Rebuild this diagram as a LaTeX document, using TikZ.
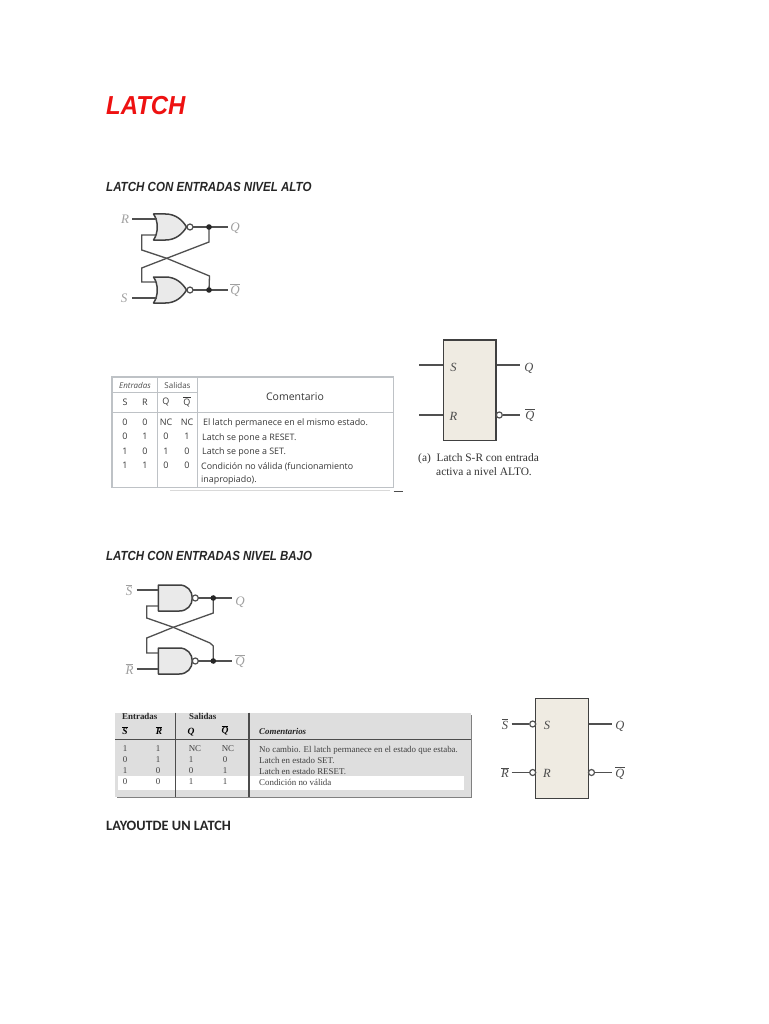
\documentclass[tikz,border=0pt]{standalone}
\usepackage{graphicx}
\usepackage{fontspec}
\setmainfont{Liberation Serif}
\newfontfamily\headfont{Liberation Sans}
\newfontfamily\tabfont{Open Sans}
\newfontfamily\layfont{Carlito}
\newcommand{\fsz}[1]{\fontsize{#1}{#1}\selectfont}
\newcommand{\barred}[1]{\ensuremath{\overline{\hbox{#1}}}}
\definecolor{wirecol}{HTML}{505050}
\definecolor{gatefill}{HTML}{EAEAEA}
\definecolor{boxfill}{HTML}{EFEBE2}
\definecolor{palelabel}{HTML}{A0A0A0}
\definecolor{tabgray}{HTML}{DEDEDE}
\definecolor{tabframe}{HTML}{BEC2C6}
\definecolor{headred}{HTML}{EE1111}
\tikzset{
  x=1pt,y=-1pt,
  wire/.style={draw=wirecol,line width=1.3pt},
  gateline/.style={draw=wirecol!80!black,line width=1.5pt,fill=gatefill,line join=round},
  bubble/.style={draw=wirecol,line width=1.2pt,fill=white},
  junction/.style={fill=black!85,draw=none},
  latchbox/.style={draw=wirecol!80!black,line width=1.4pt,fill=boxfill},
  heading/.style={anchor=base west,inner sep=0pt,font=\headfont\bfseries\itshape\fsz{13.2},text=black!85},
  plabel/.style={inner sep=0pt,font=\itshape\fsz{13},text=palelabel},
  dlabel/.style={inner sep=0pt,font=\itshape\fsz{12.5},text=black!70},
  tcell/.style={inner sep=0pt,font=\tabfont\fsz{9},text=black!78},
  thead/.style={inner sep=0pt,font=\tabfont\fsz{8},text=black!70},
  ttext/.style={anchor=base west,inner sep=0pt,font=\tabfont\fsz{8.9},text=black!78},
  rcell/.style={inner sep=0pt,font=\fsz{8.9},text=black!75},
  rtext/.style={anchor=base west,inner sep=0pt,font=\fsz{8.9},text=black!75},
  rhead/.style={anchor=base west,inner sep=0pt,font=\bfseries\fsz{8.9},text=black!85},
  pics/norshape/.style={code={
    \path[gateline] (0,-13) -- (12,-13) .. controls (22,-13) and (29,-7) .. (33,0)
      .. controls (29,7) and (22,13) .. (12,13) -- (0,13)
      .. controls (5,6) and (5,-6) .. (0,-13) -- cycle;
    \path[bubble] (36.5,0) circle (3);
    \coordinate (-a) at (3,-8);
    \coordinate (-b) at (3,8);
    \coordinate (-o) at (39.5,0);
  }},
  pics/nandshape/.style={code={
    \path[gateline] (0,-13) -- (21,-13) .. controls (29,-13) and (34,-7) .. (34,0)
      .. controls (34,7) and (29,13) .. (21,13) -- (0,13) -- cycle;
    \path[bubble] (37,0) circle (3);
    \coordinate (-a) at (0,-8);
    \coordinate (-b) at (0,8);
    \coordinate (-o) at (40,0);
  }},
}
\begin{document}
\begin{tikzpicture}
\useasboundingbox (0,0) rectangle (768,1024);
\fill[white] (0,0) rectangle (768,1024);

% headings
\node[anchor=base west,inner sep=0pt,font=\headfont\bfseries\itshape\fsz{26},text=headred] (title) at (106,115) {\scalebox{.92}[1]{LATCH}};
\node[heading] (h1) at (106,192) {\scalebox{.875}[1]{LATCH CON ENTRADAS NIVEL ALTO}};
\node[heading] (h2) at (106,560) {\scalebox{.87}[1]{LATCH CON ENTRADAS NIVEL BAJO}};
\node[anchor=base west,inner sep=0pt,font=\layfont\bfseries\fsz{14.3},text=black!85] (h3) at (106,830) {LAYOUTDE UN LATCH};

% NOR latch
\pic (n1) at (153.5,227) {norshape};
\pic (n2) at (153.5,290) {norshape};
\coordinate (rin) at (132,219);
\coordinate (sin) at (132,298);
\coordinate (jq) at (209,227);
\coordinate (jn) at (209,290);
\coordinate (qe) at (228,227);
\coordinate (ne) at (228,290);
\coordinate (cross1) at (166.7,258.3);
\draw[wire] (rin) -- (rin -| n1-a);
\draw[wire] (sin) -- (sin -| n2-b);
\draw[wire] (n1-o) -- (qe);
\draw[wire] (n2-o) -- (ne);
\draw[wire] (n1-b) -- (141.7,235) -- (141.7,250) -- (cross1) -- (209.5,276) -- (jn);
\draw[wire] (jq) -- (209,242) -- (cross1) -- (141.7,268) -- (141.7,282) -- (n2-a);
\fill[junction] (jq) circle (2.8);
\fill[junction] (jn) circle (2.8);
\node[plabel] (lr) at (125,219) {R};
\node[plabel] (ls) at (124,298) {S};
\node[plabel] (lq) at (235,228) {Q};
\node[plabel] (lnq) at (235,290) {\barred{Q}};

% Table 1
\path[draw=tabframe,line width=1.3pt] (112,377) rectangle (393.5,487.5);
\draw[tabframe,line width=1pt] (157.3,377) -- (157.3,487.5);
\draw[tabframe,line width=1pt] (197.3,377) -- (197.3,487.5);
\draw[tabframe,line width=1pt] (112,392) -- (197.3,392);
\draw[tabframe,line width=1pt] (112,412) -- (393.5,412);
\draw[black!70,line width=.8pt] (393.5,491) -- (403,491);
\draw[black!15,line width=.6pt] (170,490.5) -- (390,490.5);
\node[thead] (e1) at (135,385) {\itshape Entradas};
\node[thead] (e2) at (177.5,385) {Salidas};
\node[tcell] (e3) at (125,402) {S};
\node[tcell] (e4) at (145,402) {R};
\node[tcell] (e5) at (166,402) {Q};
\node[tcell] (e6) at (187,402) {\barred{Q}};
\node[anchor=center,inner sep=0pt,font=\tabfont\fsz{10.5},text=black!78] (e7) at (295,397) {Comentario};
\node[tcell] (a1) at (125,422) {0};
\node[tcell] (a2) at (145,422) {0};
\node[tcell] (a3) at (166,422) {NC};
\node[tcell] (a4) at (187,422) {NC};
\node[tcell] (b1) at (125,436) {0};
\node[tcell] (b2) at (145,436) {1};
\node[tcell] (b3) at (166,436) {0};
\node[tcell] (b4) at (187,436) {1};
\node[tcell] (c1) at (125,451) {1};
\node[tcell] (c2) at (145,451) {0};
\node[tcell] (c3) at (166,451) {1};
\node[tcell] (c4) at (187,451) {0};
\node[tcell] (d1) at (125,465) {1};
\node[tcell] (d2) at (145,465) {1};
\node[tcell] (d3) at (166,465) {0};
\node[tcell] (d4) at (187,465) {0};
\node[ttext] (a5) at (203,425) {El latch permanece en el mismo estado.};
\node[ttext] (b5) at (202,440) {Latch se pone a RESET.};
\node[ttext] (c5) at (202,454) {Latch se pone a SET.};
\node[ttext] (d5) at (201,469) {Condición no válida (funcionamiento};
\node[ttext] (d6) at (201,482) {inapropiado).};

% block 1
\node[latchbox,minimum width=52.6,minimum height=100.7,inner sep=0pt] (bk1) at (469.7,390.4) {};
\coordinate (s1) at (419,365);
\coordinate (r1) at (419,415);
\coordinate (q1) at (520,365);
\coordinate (n1e) at (520,415);
\draw[wire] (s1) -- (s1 -| bk1.west);
\draw[wire] (r1) -- (r1 -| bk1.west);
\draw[wire] (q1 -| bk1.east) -- (q1);
\node[circle,bubble,minimum size=6,inner sep=0pt] (bb1) at (499.3,415) {};
\draw[wire] (bb1) -- (n1e);
\node[dlabel] (ls1) at (453.5,367) {S};
\node[dlabel] (lr1) at (453.5,416) {R};
\node[dlabel] (lq1) at (529,368) {Q};
\node[dlabel] (ln1) at (530,415) {\barred{Q}};
\node[anchor=base west,inner sep=0pt,font=\fsz{11.4},text=black!80] (cap1) at (418,461) {(a)\ \ Latch S-R con entrada};
\node[anchor=base west,inner sep=0pt,font=\fsz{11.4},text=black!80] (cap2) at (436,475) {activa a nivel ALTO.};

% NAND latch
\pic (g1) at (158.3,598) {nandshape};
\pic (g2) at (158.3,661) {nandshape};
\coordinate (si) at (136.7,590);
\coordinate (ri) at (136.7,669);
\coordinate (gq) at (213.3,598);
\coordinate (gn) at (213.3,661);
\coordinate (gqe) at (232,598);
\coordinate (gne) at (232,661);
\coordinate (cross2) at (173.3,627.3);
\draw[wire] (si) -- (g1-a);
\draw[wire] (ri) -- (g2-b);
\draw[wire] (g1-o) -- (gqe);
\draw[wire] (g2-o) -- (gne);
\draw[wire] (g1-b) -- (146.7,606) -- (146.7,618) -- (cross2) -- (210,643) -- (213.3,646) -- (gn);
\draw[wire] (gq) -- (213.3,613) -- (cross2) -- (146.7,638) -- (146.7,653) -- (g2-a);
\fill[junction] (gq) circle (2.8);
\fill[junction] (gn) circle (2.8);
\node[plabel] (gls) at (129,590) {\barred{S}};
\node[plabel] (glr) at (129.5,669) {\barred{R}};
\node[plabel] (glq) at (240,602) {Q};
\node[plabel] (gln) at (240,661) {\barred{Q}};

% Table 2
\fill[black!50] (116.5,714.5) rectangle (472,798);
\fill[tabgray] (115,712.7) rectangle (470.5,796.5);
\fill[white] (118,776) rectangle (464,790);
\draw[black!70,line width=1.2pt] (115,739.3) -- (470.5,739.3);
\draw[black!70,line width=1.2pt] (175.7,712.7) -- (175.7,796.5);
\draw[black!70,line width=1.2pt] (249,712.7) -- (249,796.5);
\node[rhead] (t1) at (122,719.5) {Entradas};
\node[rhead] (t2) at (189,719.5) {Salidas};
\node[inner sep=0pt,font=\bfseries\itshape\fsz{9.5}] (t3) at (125,730.5) {\barred{S}};
\node[inner sep=0pt,font=\bfseries\itshape\fsz{9.5}] (t4) at (159,730.5) {\barred{R}};
\node[inner sep=0pt,font=\bfseries\itshape\fsz{9.5}] (t5) at (191,732.5) {Q};
\node[inner sep=0pt,font=\bfseries\itshape\fsz{9.5}] (t6) at (225,730.5) {\barred{Q}};
\node[rhead,font=\bfseries\itshape\fsz{8.9}] (t7) at (259,734) {Comentarios};
\node[rcell] (p1) at (125,749) {1};
\node[rcell] (p2) at (158,749) {1};
\node[rcell] (p3) at (195,749) {NC};
\node[rcell] (p4) at (228,749) {NC};
\node[rcell] (q1c) at (125,759.5) {0};
\node[rcell] (q2c) at (158,759.5) {1};
\node[rcell] (q3c) at (191,759.5) {1};
\node[rcell] (q4c) at (225,759.5) {0};
\node[rcell] (u1) at (125,771) {1};
\node[rcell] (u2) at (158,771) {0};
\node[rcell] (u3) at (191,771) {0};
\node[rcell] (u4) at (225,771) {1};
\node[rcell] (v1) at (125,782) {0};
\node[rcell] (v2) at (158,782) {0};
\node[rcell] (v3) at (191,782) {1};
\node[rcell] (v4) at (225,782) {1};
\node[rtext] (p5) at (259,752) {No cambio. El latch permanece en el estado que estaba.};
\node[rtext] (q5) at (259,763) {Latch en estado SET.};
\node[rtext] (u5) at (259,774) {Latch en estado RESET.};
\node[rtext] (v5) at (259,785) {Condición no válida};

% block 2
\node[latchbox,minimum width=52.6,minimum height=100,inner sep=0pt] (bk2) at (562,748.3) {};
\coordinate (s2) at (511.7,724);
\coordinate (r2) at (511.7,772.5);
\coordinate (q2) at (612,724);
\coordinate (n2e) at (612,772.5);
\node[circle,bubble,minimum size=6,inner sep=0pt] (bs2) at (532.7,724) {};
\node[circle,bubble,minimum size=6,inner sep=0pt] (br2) at (532.7,772.5) {};
\node[circle,bubble,minimum size=6,inner sep=0pt] (bn2) at (591.5,772.5) {};
\draw[wire] (s2) -- (bs2);
\draw[wire] (r2) -- (br2);
\draw[wire] (q2 -| bk2.east) -- (q2);
\draw[wire] (bn2) -- (n2e);
\node[dlabel] (ls2b) at (505,724) {\barred{S}};
\node[dlabel] (lr2b) at (505,772.5) {\barred{R}};
\node[dlabel] (ls2) at (547,725.5) {S};
\node[dlabel] (lr2) at (547,773.5) {R};
\node[dlabel] (lq2) at (620,726) {Q};
\node[dlabel] (ln2) at (620,773) {\barred{Q}};
\end{tikzpicture}
\end{document}
